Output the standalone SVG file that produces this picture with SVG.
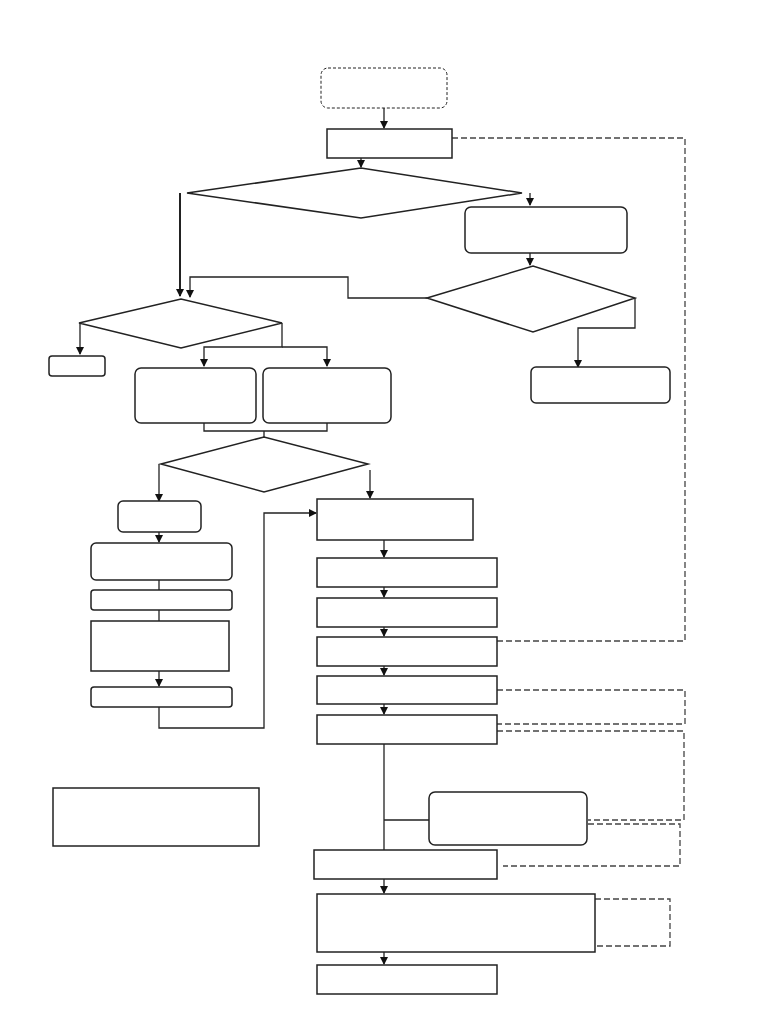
<svg xmlns="http://www.w3.org/2000/svg" width="768" height="1024" viewBox="0 0 768 1024">
<style>
.n{fill:#fff;stroke:#222;stroke-width:1.5}
.c{fill:none;stroke:#222;stroke-width:1.3}
.d{fill:none;stroke:#444;stroke-width:1.3;stroke-dasharray:6 3}
</style>
<defs><marker id="a" markerWidth="8" markerHeight="8" refX="7" refY="4" orient="auto" markerUnits="userSpaceOnUse"><path d="M0,0L8,4L0,8z" fill="#111"/></marker></defs>
<rect width="768" height="1024" fill="#fff"/>
<g id="connectors">
<path class="c" d="M384,108V128" marker-end="url(#a)"/>
<path class="c" d="M361,158V167" marker-end="url(#a)"/>
<path class="c" style="stroke-width:2" d="M180,193V296" marker-end="url(#a)"/>
<path class="c" d="M530,193V205" marker-end="url(#a)"/>
<path class="c" d="M530,253V265" marker-end="url(#a)"/>
<path class="c" d="M427,298H348V277H190V297" marker-end="url(#a)"/>
<path class="c" d="M635,298V328H578V367" marker-end="url(#a)"/>
<path class="c" d="M80,323V354" marker-end="url(#a)"/>
<path class="c" d="M282,323V347H204V366" marker-end="url(#a)"/>
<path class="c" d="M282,347H327V366" marker-end="url(#a)"/>
<path class="c" d="M204,423V431H327V423M264,431V437"/>
<path class="c" d="M159,464V501" marker-end="url(#a)"/>
<path class="c" d="M370,470V498" marker-end="url(#a)"/>
<path class="c" d="M159,532V542" marker-end="url(#a)"/>
<path class="c" d="M159,580V590M159,610V621"/>
<path class="c" d="M159,671V686" marker-end="url(#a)"/>
<path class="c" d="M159,707V728H264V513H316" marker-end="url(#a)"/>
<path class="c" d="M384,540V557" marker-end="url(#a)"/>
<path class="c" d="M384,587V597" marker-end="url(#a)"/>
<path class="c" d="M384,627V636" marker-end="url(#a)"/>
<path class="c" d="M384,666V675" marker-end="url(#a)"/>
<path class="c" d="M384,704V714" marker-end="url(#a)"/>
<path class="c" d="M384,744V850M384,820H430"/>
<path class="c" d="M384,879V893" marker-end="url(#a)"/>
<path class="c" d="M384,952V964" marker-end="url(#a)"/>
<path class="d" d="M452,138H685V641H497"/>
<path class="d" d="M497,690H685V724H497"/>
<path class="d" d="M497,731H684V820H588"/>
<path class="d" d="M588,824H680V866H503"/>
<path class="d" d="M595,899H670V946H595"/>
</g>
<g id="start"><rect class="n" x="321" y="68" width="126" height="40" rx="7" style="stroke-dasharray:3 2;stroke-width:1"/></g>
<g id="b1"><rect class="n" x="327" y="129" width="125" height="29"/></g>
<g id="d1"><polygon class="n" points="187,193 361,168 522,193 361,218"/></g>
<g id="r1"><rect class="n" x="465" y="207" width="162" height="46" rx="6"/></g>
<g id="d2"><polygon class="n" points="427,298 533,266 635,298 533,332"/></g>
<g id="r2"><rect class="n" x="531" y="367" width="139" height="36" rx="5"/></g>
<g id="d3"><polygon class="n" points="79,323 181,299 282,323 181,348"/></g>
<g id="s1"><rect class="n" x="49" y="356" width="56" height="20" rx="3"/></g>
<g id="p1"><rect class="n" x="135" y="368" width="121" height="55" rx="6"/></g>
<g id="p2"><rect class="n" x="263" y="368" width="128" height="55" rx="6"/></g>
<g id="d4"><polygon class="n" points="161,464 264,437 368,464 264,492"/></g>
<g id="la"><rect class="n" x="118" y="501" width="83" height="31" rx="5"/></g>
<g id="lb"><rect class="n" x="91" y="543" width="141" height="37" rx="5"/></g>
<g id="lc"><rect class="n" x="91" y="590" width="141" height="20" rx="3"/></g>
<g id="ld"><rect class="n" x="91" y="621" width="138" height="50"/></g>
<g id="le"><rect class="n" x="91" y="687" width="141" height="20" rx="3"/></g>
<g id="f"><rect class="n" x="317" y="499" width="156" height="41"/></g>
<g id="g"><rect class="n" x="317" y="558" width="180" height="29"/></g>
<g id="h"><rect class="n" x="317" y="598" width="180" height="29"/></g>
<g id="i"><rect class="n" x="317" y="637" width="180" height="29"/></g>
<g id="j"><rect class="n" x="317" y="676" width="180" height="28"/></g>
<g id="k"><rect class="n" x="317" y="715" width="180" height="29"/></g>
<g id="l"><rect class="n" x="429" y="792" width="158" height="53" rx="6"/></g>
<g id="m"><rect class="n" x="314" y="850" width="183" height="29"/></g>
<g id="nn"><rect class="n" x="317" y="894" width="278" height="58"/></g>
<g id="o"><rect class="n" x="317" y="965" width="180" height="29"/></g>
<g id="legend"><rect class="n" x="53" y="788" width="206" height="58"/></g>
</svg>
